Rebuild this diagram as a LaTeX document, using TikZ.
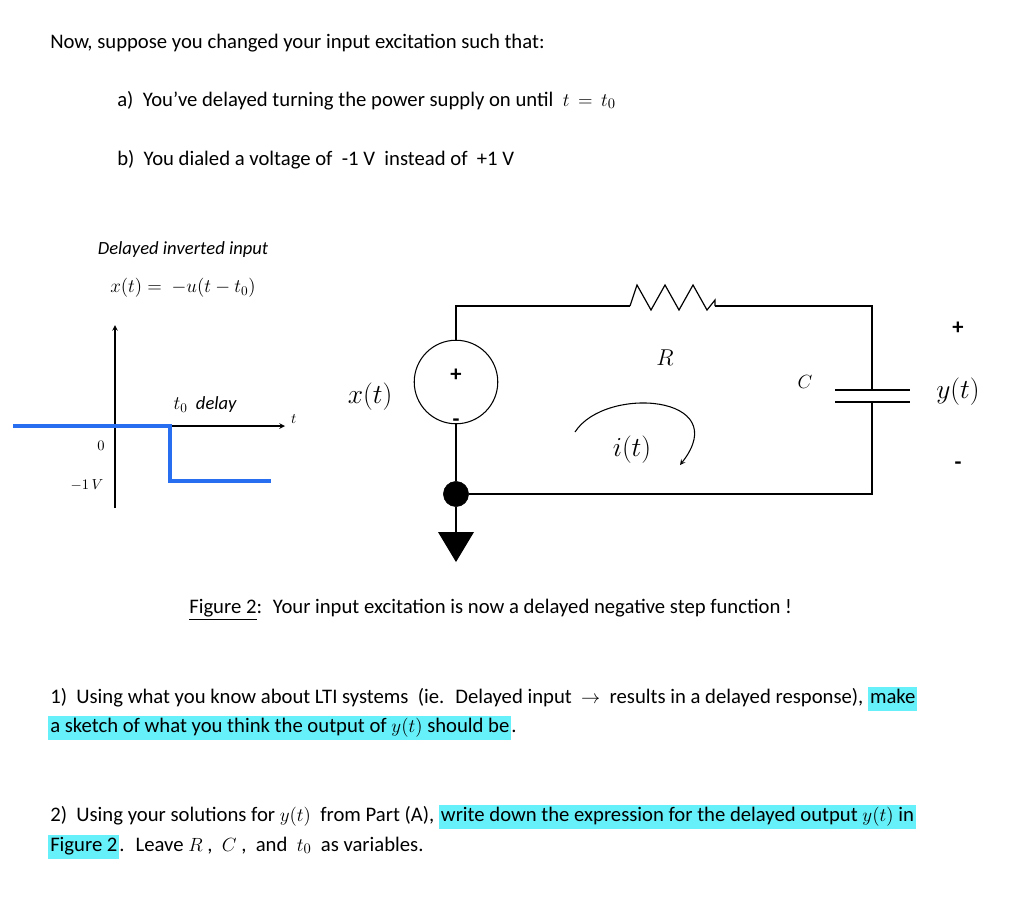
\documentclass[tikz,border=0pt]{standalone}
\usepackage{amsmath}
\usepackage{fontspec}
\setmainfont{Carlito}
\usetikzlibrary{arrows,positioning,calc}
\definecolor{hl}{RGB}{102,240,250}
\definecolor{stepblue}{RGB}{40,110,240}
\newcommand{\fsz}[1]{\fontsize{#1}{#1}\selectfont}
\newcommand{\hlt}[1]{{\setlength{\fboxsep}{1.5pt}\colorbox{hl}{\strut #1}}}
\begin{document}
\begin{tikzpicture}[x=0.0265cm,y=-0.0265cm,every text node part/.style={align=left}]
\tikzset{myFont/.style={font=\fsz{15.6}}}
\tikzset{myText/.style={myFont,anchor=base west,inner sep=0}}
\tikzset{myWire/.style={draw,line width=1.4pt}}
\tikzset{mySign/.style={font=\bfseries\fsz{17}}}
\useasboundingbox (0,0) rectangle (1024,904);

% text
\node[myText] (intro) at (50,48) {Now, suppose you changed your input excitation such that:};
\node[myText] (itema) at (117,106) {a)\ \ You’ve delayed turning the power supply on until \ $t\,=\,t_0$};
\node[myText] (itemb) at (117,165) {b)\ \ You dialed a voltage of \ -1 V \ instead of \ +1 V};
\node[myText] (caption) at (189,613) {\underline{Figure 2}: \ Your input excitation is now a delayed negative step function !};
\node[myText] (q1a) at (50,703) {1) \ Using what you know about LTI systems \ (ie. \ Delayed input \ $\rightarrow$ \ results in a delayed response), \hlt{make}};
\node[myText] (q1b) at (48,732) {\hlt{a sketch of what you think the output of $y(t)$ should be}.};
\node[myText] (q2a) at (50,821) {2) \ Using your solutions for $y(t)$ \ from Part (A), \hlt{write down the expression for the delayed output $y(t)$ in}};
\node[myText] (q2b) at (48,851) {\hlt{Figure 2}. \ Leave $R$ , \ $C$ , \ and \ $t_0$ \ as variables.};

% input graph
\node[font=\fsz{14}] (title) at (183,250) {$\mathit{Delayed\ inverted\ input}$};
\node[font=\fsz{14}] (eqn) at (183,288) {$x(t) =\ -u(t-t_0)$};
\coordinate (yb) at (115,508);
\coordinate (yt) at (115,325);
\coordinate (xo) at (115,426);
\coordinate (xe) at (285,426);
\draw[line width=0.9pt,->,>=stealth] (yb) -- (yt);
\draw[line width=0.9pt,->,>=stealth] (xo) -- (xe);
\node[font=\fsz{11},right=1pt of xe,yshift=5pt] (tlab) {$t$};
\draw[stepblue,line width=2.5pt] (13,426) -- (170,426) -- (170,481) -- (271,481);
\node[font=\fsz{14}] (delay) at (205,405) {$t_0\ \ \mathit{delay}$};
\node[font=\fsz{11}] (zero) at (101,446) {$0$};
\node[font=\fsz{11}] (minus) at (87,485) {$-1\,V$};

% circuit
\node[draw,circle,line width=0.8pt,minimum size=63pt] (src) at (456,382) {};
\node[mySign] (plus) at (456,375) {+};
\node[mySign] (minusS) at (456,423) {-};
\node[font=\fsz{22}] (xt) at (370,397) {$x(t)$};
\node[draw,fill=black,circle,minimum size=19pt,inner sep=0] (gnd) at (456,494) {};
\coordinate (tl) at (456,306);
\coordinate (tr) at (872,306);
\coordinate (br) at (872,494);
\coordinate (ra) at (630,306);
\coordinate (rb) at (715,306);
\coordinate (cu) at (872,390);
\coordinate (cd) at (872,402);
\coordinate (gt) at (456,532);
\draw[myWire] (src.north) -- (tl) -- (ra);
\draw[line width=0.9pt] (ra) -- (637,285) -- (651,310) -- (665,285) -- (679,310) -- (693,285) -- (707,310) -- (715,300) -- (rb);
\draw[myWire] (rb) -- (tr) -- (cu);
\draw[line width=1.4pt] (835,390) -- (910,390);
\draw[line width=1.4pt] (835,402) -- (910,402);
\draw[myWire] (cd) -- (br) -- (gnd.east);
\draw[myWire] (src.south) -- (gnd) -- (gt);
\fill (438,532) -- (474,532) -- (456,562) -- cycle;
\node[font=\fsz{17}] (Rlab) at (665,358) {$R$};
\node[font=\fsz{15}] (Clab) at (805,382) {$C$};
\node[mySign] (yplus) at (958,328) {+};
\node[font=\fsz{22}] (yt2) at (958,392) {$y(t)$};
\node[mySign] (yminus) at (958,466) {-};
\node[font=\fsz{20}] (it) at (632,450) {$i(t)$};
\draw[line width=0.8pt,->,>=stealth] (575,432) .. controls (605,385) and (735,395) .. (680,465);
\end{tikzpicture}
\end{document}
